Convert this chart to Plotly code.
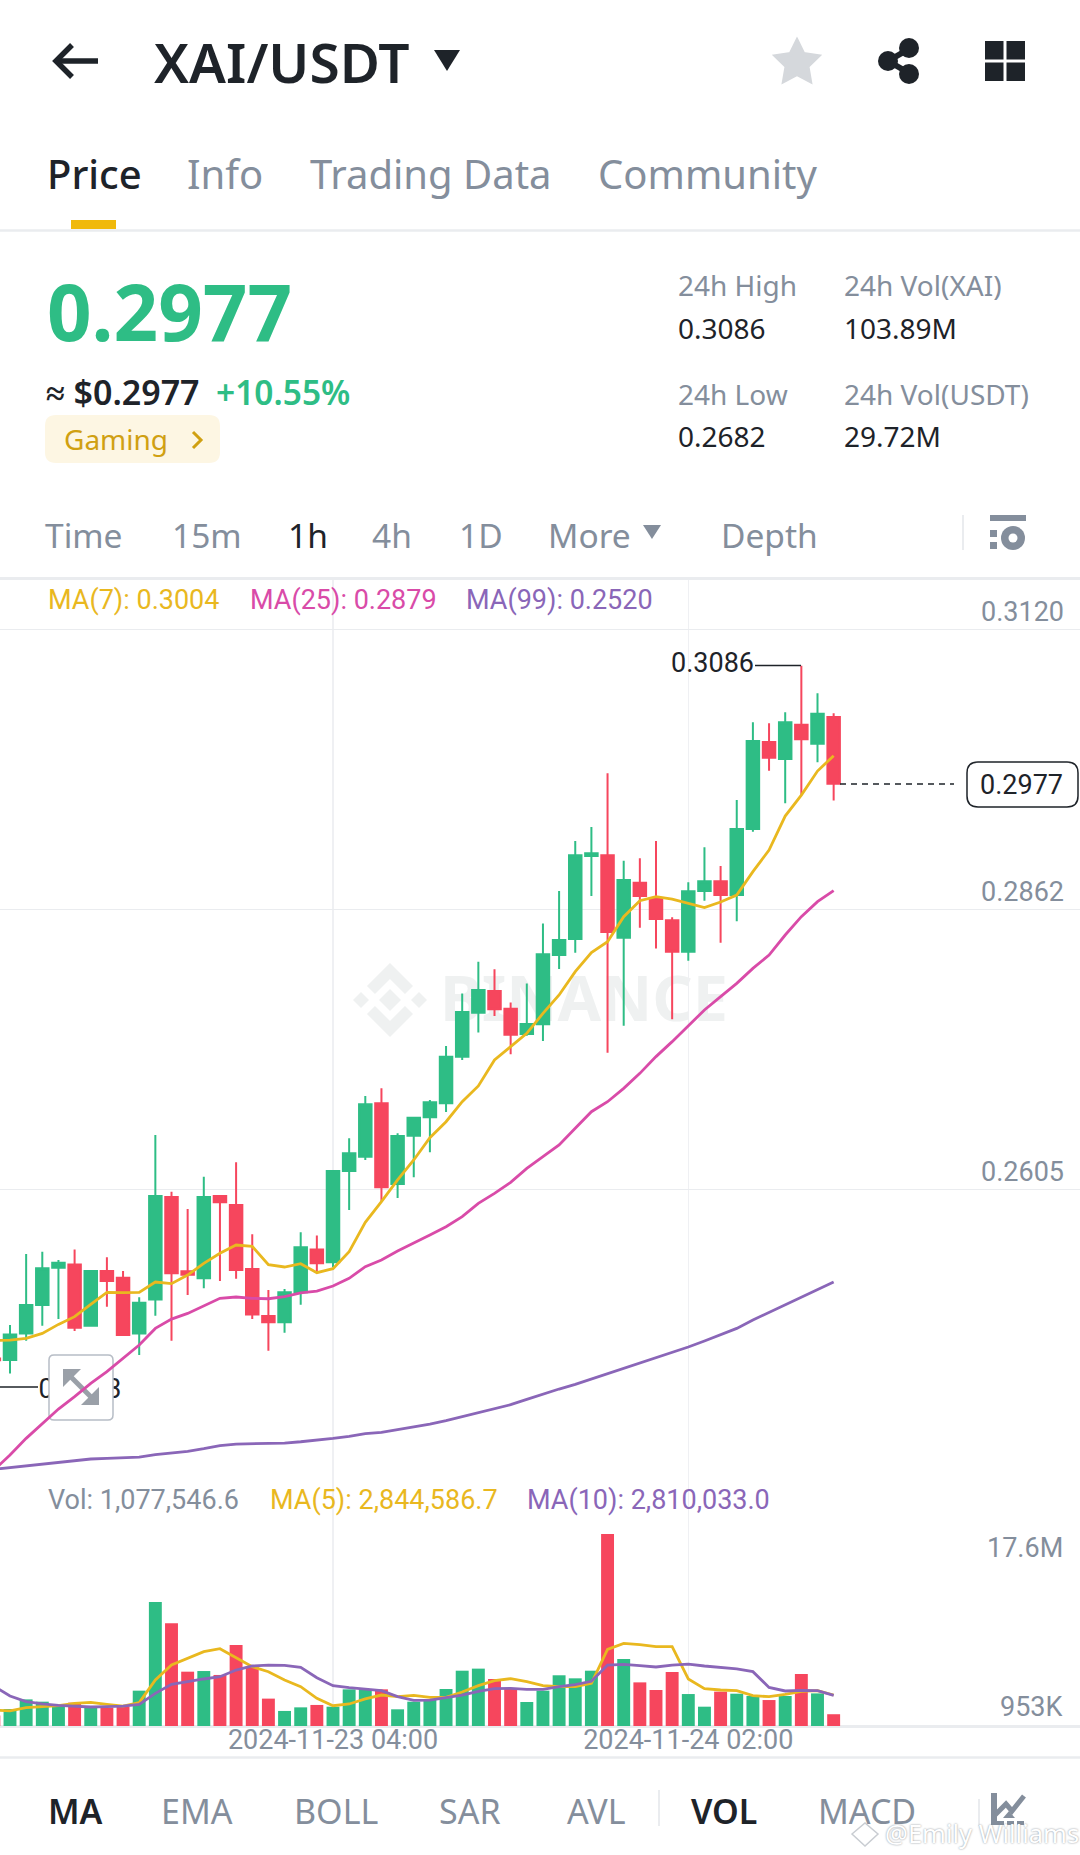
import math
import pandas as pd
import plotly.graph_objects as go

W, H = 1080, 1855
GREEN, RED = "#2EBD85", "#F6465D"
DARK, GREY = "#1E2329", "#848E9C"
YELLOW, PINK, PURPLE = "#E9B81F", "#D94BA8", "#8A66B8"
LINE = "#EAECEF"

# hourly candles, first one sits half off the left edge
hours = pd.date_range("2024-11-22 07:00", periods=53, freq="h")

opens = [.24491, .24476, .24721, .24982, .25326, .25356, .24792, .25295, .25234, .24721, .25034,
         .25976, .25292, .25228, .25985, .25902, .25313, .24881, .24823, .25099, .25494,
         .25375, .26215, .26347, .26838, .26096, .26540, .26709, .26838, .27267, .27672,
         .27872, .27709, .27476, .27565, .28203, .28350, .29114, .29120, .28363, .28869,
         .28725, .28522, .28234, .28792, .28881, .28755, .29363, .30163, .30007, .30323,
         .30148, .30393]
closes = [.24473, .24712, .24982, .25320, .25372, .24774, .25295, .25203, .24706, .25004, .25985,
          .25274, .25261, .25976, .25927, .25304, .24896, .24823, .25099, .25513, .25366,
          .26215, .26378, .26829, .26065, .26537, .26706, .26847, .27267, .27679, .27881,
          .27703, .27470, .27568, .28209, .28341, .29120, .29139, .28415, .28893, .28746,
          .28534, .28234, .28789, .28881, .28755, .29363, .30172, .30019, .30344, .30188,
          .30424, .29780]
highs = [.24500, .24798, .25452, .25473, .25396, .25494, .25304, .25421, .25295, .25053, .26547,
         .26025, .25866, .26163, .25994, .26295, .25633, .25120, .25129, .25651, .25623,
         .26224, .26516, .26906, .26976, .26562, .26706, .26869, .27366, .27850, .28142,
         .28071, .27767, .27942, .28494, .28792, .29252, .29381, .29875, .29071, .29093,
         .29252, .28550, .28872, .29194, .29022, .29629, .30344, .30335, .30436, .30866,
         .30611, .30427]
lows = [.24465, .24353, .24654, .24792, .24853, .24743, .24792, .24967, .24706, .24522, .24884,
        .24654, .25074, .25136, .25203, .25225, .24853, .24562, .24728, .24985, .25280,
        .25329, .25856, .26317, .25933, .25967, .26157, .26387, .26758, .27237, .27491,
        .27642, .27289, .27461, .27412, .28074, .28225, .28746, .27304, .27553, .28455,
        .28264, .27611, .28151, .28703, .28317, .28513, .29338, .29899, .29599, .29675,
        .29976, .29626]
ma_7 = [.24654, .24660, .24675, .24721, .24804, .24875, .24988, .25099, .25096, .25099, .25194,
        .25179, .25258, .25366, .25458, .25534, .25522, .25353, .25332, .25362, .25280,
        .25317, .25473, .25743, .25933, .26133, .26317, .26522, .26669, .26853, .26998,
        .27237, .27360, .27482, .27666, .27835, .28050, .28225, .28326, .28556, .28703,
        .28740, .28718, .28679, .28639, .28691, .28755, .28970, .29169, .29482, .29675,
        .29896, .30037]
ma_25 = [.23464, .23602, .23755, .23893, .24025, .24139, .24261, .24369, .24491, .24614, .24767,
         .24853, .24905, .24976, .25044, .25056, .25044, .25040, .25059, .25093, .25111,
         .25157, .25228, .25335, .25396, .25479, .25550, .25626, .25703, .25795, .25918,
         .26010, .26111, .26240, .26347, .26455, .26608, .26761, .26853, .26976, .27114,
         .27268, .27406, .27553, .27697, .27820, .27942, .28080, .28203, .28387, .28556,
         .28694, .28795]
ma_99 = [.23470, .23485, .23501, .23516, .23534, .23550, .23565, .23571, .23577, .23583, .23605,
         .23620, .23636, .23660, .23688, .23703, .23706, .23709, .23712, .23724, .23737,
         .23755, .23774, .23798, .23810, .23835, .23859, .23887, .23918, .23955, .23991,
         .24028, .24065, .24114, .24163, .24209, .24252, .24301, .24347, .24393, .24445,
         .24498, .24547, .24596, .24651, .24709, .24767, .24844, .24915, .24988, .25059,
         .25126, .25194]
# volume in millions
volume = [0.953, 1.56, 2.44, 2.23, 1.86, 2.14, 1.77, 1.68, 1.77, 3.24, 11.37,
          9.41, 4.98, 5.04, 4.68, 7.43, 5.44, 2.51, 1.38, 1.71, 1.93,
          1.77, 3.36, 3.30, 3.36, 1.53, 2.23, 2.44, 3.39, 5.07, 5.26,
          4.31, 3.45, 2.20, 3.24, 4.65, 4.37, 5.07, 17.6, 6.14, 4.00,
          3.30, 4.95, 2.93, 1.77, 3.15, 2.96, 2.75, 2.38, 2.75, 4.77,
          2.99, 1.08]
vol_ma5 = [1.47, 1.38, 1.68, 1.77, 1.86, 2.08, 2.17, 1.99, 1.83, 2.14, 4.22,
           5.59, 6.20, 6.81, 7.09, 6.26, 5.44, 4.98, 4.22, 3.61, 2.54,
           1.86, 2.02, 2.48, 2.84, 2.69, 2.81, 2.63, 2.63, 3.12, 3.70,
           4.16, 4.34, 4.06, 3.70, 3.61, 3.61, 3.91, 7.03, 7.58, 7.46,
           7.27, 7.27, 4.31, 3.42, 3.30, 3.24, 2.78, 2.69, 2.90, 3.18,
           3.24, 2.84]
vol_ma10 = [3.67, 2.75, 2.23, 2.02, 1.89, 1.83, 1.74, 1.77, 1.83, 1.99, 2.99,
            3.82, 4.10, 4.31, 4.52, 5.13, 5.50, 5.59, 5.56, 5.38, 4.43,
            3.70, 3.51, 3.39, 3.24, 2.69, 2.35, 2.38, 2.60, 2.84, 3.18,
            3.42, 3.45, 3.36, 3.36, 3.61, 3.79, 4.10, 5.59, 5.65, 5.53,
            5.41, 5.59, 5.68, 5.50, 5.35, 5.23, 4.98, 3.54, 3.21, 3.27,
            3.24, 2.81]

price_ticks = [.31200, .28623, .26047, .23470]
price_labels = ["0.3120", "0.2862", "0.2605", "0.2347"]
date_ticks = ["2024-11-23 04:00", "2024-11-24 02:00"]
header_tabs = [("Price", 46, DARK), ("Info", 186, GREY), ("Trading Data", 309, GREY), ("Community", 597, GREY)]
time_tabs = [("Time", 44, GREY), ("15m", 171, GREY), ("1h", 287, DARK), ("4h", 371, GREY),
             ("1D", 458, GREY), ("More", 547, GREY), ("Depth", 720, GREY)]
indicators = [("MA", 47, DARK), ("EMA", 160, GREY), ("BOLL", 293, GREY), ("SAR", 438, GREY),
              ("AVL", 566, GREY), ("VOL", 690, DARK), ("MACD", 817, GREY)]
bar_colors = [GREEN if c >= o else RED for o, c in zip(opens, closes)]


def px(x):
    return x / W


def py(y):
    return 1 - y / H


def path(points, close=True):
    d = "M" + " L".join(f"{px(x):.5f} {py(y):.5f}" for x, y in points)
    return d + (" Z" if close else "")


def round_rect(x0, y0, x1, y1, r):
    return (f"M{px(x0 + r):.5f} {py(y0):.5f} L{px(x1 - r):.5f} {py(y0):.5f} Q{px(x1):.5f} {py(y0):.5f} {px(x1):.5f} {py(y0 + r):.5f} "
            f"L{px(x1):.5f} {py(y1 - r):.5f} Q{px(x1):.5f} {py(y1):.5f} {px(x1 - r):.5f} {py(y1):.5f} "
            f"L{px(x0 + r):.5f} {py(y1):.5f} Q{px(x0):.5f} {py(y1):.5f} {px(x0):.5f} {py(y1 - r):.5f} "
            f"L{px(x0):.5f} {py(y0 + r):.5f} Q{px(x0):.5f} {py(y0):.5f} {px(x0 + r):.5f} {py(y0):.5f} Z")


shapes = []
annotations = []


def shape_path(d, fill=None, stroke=None, width=0, layer="above"):
    shapes.append(dict(type="path", path=d, xref="paper", yref="paper", layer=layer,
                       fillcolor=fill or "rgba(0,0,0,0)",
                       line=dict(color=stroke or "rgba(0,0,0,0)", width=width)))


def rule(x0, y0, x1, y1, color=LINE, width=2, dash="solid", layer="above"):
    shapes.append(dict(type="line", xref="paper", yref="paper", layer=layer,
                       x0=px(x0), y0=py(y0), x1=px(x1), y1=py(y1),
                       line=dict(color=color, width=width, dash=dash)))


def circle(cx, cy, r, fill, layer="above"):
    shapes.append(dict(type="circle", xref="paper", yref="paper", layer=layer,
                       x0=px(cx - r), y0=py(cy - r), x1=px(cx + r), y1=py(cy + r),
                       fillcolor=fill, line=dict(width=0)))


def label(x, y, s, size, color, anchor="left", family="Noto Sans", weight=400, shadow=None):
    font = dict(family=family, size=size, color=color, weight=weight)
    if shadow:
        font["shadow"] = shadow
    annotations.append(dict(x=px(x), y=py(y), xref="paper", yref="paper", text=s, showarrow=False,
                            xanchor=anchor, yanchor="middle", borderpad=0, font=font))


# header
shape_path(path([(72, 45), (56, 61), (72, 77)], close=False), stroke=DARK, width=5.5)
rule(57, 61, 98, 61, DARK, 5.5)
label(153, 62, "XAI/USDT", 55, DARK, weight=600)
shape_path(path([(434, 50), (460, 50), (447, 71)]), fill=DARK)
star = []
for n in range(10):
    r = 22 if n % 2 == 0 else 11
    a = -math.pi / 2 + n * math.pi / 5
    star.append((797 + r * math.cos(a), 63 + r * math.sin(a)))
shape_path(path(star), fill="#D5D8DC", stroke="#D5D8DC", width=4)
rule(888, 61, 909, 49, DARK, 6)
rule(888, 61, 909, 73, DARK, 6)
circle(888, 61, 10, DARK)
circle(909, 48, 10, DARK)
circle(909, 74, 10, DARK)
for gx, gy in [(985, 41), (1006.5, 41), (985, 62.5), (1006.5, 62.5)]:
    shape_path(path([(gx, gy), (gx + 18.5, gy), (gx + 18.5, gy + 18.5), (gx, gy + 18.5)]), fill=DARK)

for s, x, c in header_tabs:
    label(x, 174, s, 40, c, weight=500 if c == DARK else 400)
shape_path(path([(71, 220), (116, 220), (116, 229), (71, 229)]), fill="#F0B90B")
rule(0, 230.5, W, 230.5, LINE, 2.5)

label(46, 311, "0.2977", 78, GREEN, weight=700)
label(45, 392, "≈ $0.2977", 34, DARK, weight=600)
label(215, 392, "+10.55%", 33.5, GREEN, weight=600)
shape_path(round_rect(45, 415, 220, 463, 11), fill="#FDF6E3")
label(63, 439, "Gaming", 28, "#D0A012")
shape_path(path([(193, 432), (201, 440), (193, 448)], close=False), stroke="#D0A012", width=3)

stats = [("24h High", "0.3086", 677, 285, 328), ("24h Vol(XAI)", "103.89M", 843, 285, 328),
         ("24h Low", "0.2682", 677, 394, 436), ("24h Vol(USDT)", "29.72M", 843, 394, 436)]
for head, val, x, y0, y1 in stats:
    label(x, y0, head, 28, GREY)
    label(x, y1, val, 28, DARK)

for s, x, c in time_tabs:
    label(x, 535, s, 33.5, c)
shape_path(path([(643, 525), (661, 525), (652, 539)]), fill=GREY)
rule(963, 515, 963, 550, LINE, 2)
shape_path(path([(990, 515), (1026, 515), (1026, 521), (990, 521)]), fill=GREY)
shape_path(path([(990, 530), (997, 530), (997, 537), (990, 537)]), fill=GREY)
shape_path(path([(990, 542), (997, 542), (997, 549), (990, 549)]), fill=GREY)
circle(1013, 538, 12, GREY)
circle(1013, 538, 4.5, "white")
rule(0, 578.5, W, 578.5, LINE, 3)

# watermark and low-price tag sit under the candles
BG = "#EFF1F1"
cx, cy = 390, 1000
for dx, dy, r in [(0, 0, 11), (-29, 0, 8), (29, 0, 8)]:
    shape_path(path([(cx + dx - r, cy + dy), (cx + dx, cy + dy - r), (cx + dx + r, cy + dy), (cx + dx, cy + dy + r)]), fill=BG, layer="below")
shape_path(path([(cx, cy - 37), (cx + 23, cy - 14), (cx + 15, cy - 6), (cx, cy - 21), (cx - 15, cy - 6), (cx - 23, cy - 14)]), fill=BG, layer="below")
shape_path(path([(cx, cy + 37), (cx + 23, cy + 14), (cx + 15, cy + 6), (cx, cy + 21), (cx - 15, cy + 6), (cx - 23, cy + 14)]), fill=BG, layer="below")
shapes.append(dict(type="rect", xref="paper", yref="paper", layer="below",
                   x0=px(430), y0=py(970), x1=px(738), y1=py(1030), line=dict(width=0),
                   label=dict(text="BINANCE", textposition="middle center",
                              font=dict(family="Noto Sans", size=63, color=BG, weight=700))))

rule(0, 1387, 38, 1387, DARK, 1.5, layer="below")
shapes.append(dict(type="rect", xref="paper", yref="paper", layer="below",
                   x0=px(34), y0=py(1370), x1=px(126), y1=py(1404), line=dict(width=0),
                   label=dict(text="0.2423", textposition="middle center",
                              font=dict(family="Roboto", size=27, color=DARK))))
shape_path(round_rect(49, 1355, 113, 1420, 5), fill="white", stroke="#B7BDC6", width=1.5, layer="below")
ARROW = "#9AA0A8"
shape_path(path([(63, 1369), (81, 1369), (63, 1387)]), fill=ARROW, layer="below")
shape_path(path([(99, 1405), (81, 1405), (99, 1387)]), fill=ARROW, layer="below")
rule(68, 1374, 94, 1400, ARROW, 5, layer="below")

# chart legends
label(47, 600, "MA(7): 0.3004", 27, YELLOW, family="Roboto")
label(249, 600, "MA(25): 0.2879", 27, PINK, family="Roboto")
label(465, 600, "MA(99): 0.2520", 27, PURPLE, family="Roboto")
label(47, 1500, "Vol: 1,077,546.6", 27, GREY, family="Roboto")
label(269, 1500, "MA(5): 2,844,586.7", 27, YELLOW, family="Roboto")
label(526, 1500, "MA(10): 2,810,033.0", 27, PURPLE, family="Roboto")
label(1064, 1548, "17.6M", 27, GREY, anchor="right", family="Roboto")
label(1064, 1707, "953K", 27, GREY, anchor="right", family="Roboto")

# high marker and last price pill
label(755, 663, "0.3086", 27, DARK, anchor="right", family="Roboto")
rule(755, 665.5, 801, 665.5, DARK, 1.5)
rule(840, 784, 954, 784, DARK, 1.5, dash="6px,5px")
shape_path(round_rect(967, 762, 1078, 807, 11), fill="white", stroke=DARK, width=1.5)
label(1064, 785, "0.2977", 27, DARK, anchor="right", family="Roboto")

# bottom tabs
rule(0, 1757.5, W, 1757.5, LINE, 2.5)
for s, x, c in indicators:
    label(x, 1810.5, s, 34, c, weight=600 if c == DARK else 400)
rule(659, 1790, 659, 1826, LINE, 2)
rule(979, 1799, 979, 1826, LINE, 2)
rule(994, 1793, 994, 1825, GREY, 6)
shape_path(path([(994, 1816), (1006, 1804), (1012, 1811), (1024, 1796)], close=False), stroke=GREY, width=5)
shape_path(path([(1003, 1818), (1015, 1818), (1009, 1811)]), fill=GREY)
for bx in [997, 1007, 1017]:
    shape_path(path([(bx, 1821), (bx + 7, 1821), (bx + 7, 1825), (bx, 1825)]), fill=GREY)

shape_path(path([(852, 1834), (865, 1823), (878, 1834), (865, 1846)]), stroke="#C9CDD2", width=1.5)
label(884, 1833, "@Emily Williams", 25.5, "white", shadow="0px 0px 2px #7f868e")

fig = go.Figure()
fig.add_trace(go.Candlestick(x=hours, open=opens, high=highs, low=lows, close=closes,
                             increasing=dict(line=dict(color=GREEN, width=2), fillcolor=GREEN),
                             decreasing=dict(line=dict(color=RED, width=2), fillcolor=RED),
                             whiskerwidth=0, xaxis="x", yaxis="y"))
for values, color in [(ma_7, YELLOW), (ma_25, PINK), (ma_99, PURPLE)]:
    fig.add_trace(go.Scatter(x=hours, y=values, mode="lines", line=dict(color=color, width=2.8), xaxis="x", yaxis="y"))
fig.add_trace(go.Bar(x=hours, y=[v * 1e6 for v in volume], marker=dict(color=bar_colors, line=dict(width=0)),
                     width=3600000 * 0.8, xaxis="x2", yaxis="y2"))
for values, color in [(vol_ma5, YELLOW), (vol_ma10, PURPLE)]:
    fig.add_trace(go.Scatter(x=hours, y=[v * 1e6 for v in values], mode="lines", line=dict(color=color, width=2.8),
                             xaxis="x2", yaxis="y2"))

start = pd.Timestamp(hours[1]) - pd.Timedelta(hours=10 / 16.15)
end = pd.Timestamp(hours[1]) + pd.Timedelta(hours=1070 / 16.15)
x_axis = dict(range=[start, end], type="date", tickvals=date_ticks, showgrid=True, gridcolor="#EFF0F3",
              gridwidth=1.5, ticks="", showline=False, zeroline=False, rangeslider=dict(visible=False))

fig.update_layout(
    width=W, height=H, margin=dict(l=0, r=0, t=0, b=0), autosize=False,
    paper_bgcolor="white", plot_bgcolor="rgba(0,0,0,0)", showlegend=False, dragmode=False,
    boxgap=0.14, boxgroupgap=0.1,
    xaxis=dict(x_axis, domain=[0, 1], anchor="y", showticklabels=False),
    xaxis2=dict(x_axis, domain=[0, 1], anchor="y2", matches="x", showticklabels=True, ticklabelstandoff=-5,
                ticktext=date_ticks, tickfont=dict(family="Roboto", size=27, color=GREY)),
    yaxis=dict(domain=[py(1470), py(580)], range=[.23464, .31654], anchor="x", side="right",
               tickvals=price_ticks, ticktext=[s + "<br>&nbsp;" for s in price_labels],
               ticklabelposition="inside", ticklabelstandoff=13, ticks="",
               tickfont=dict(family="Roboto", size=27, color=GREY),
               showgrid=True, gridcolor=LINE, gridwidth=1.5, zeroline=False, showline=False),
    yaxis2=dict(domain=[py(1726), py(1470)], range=[0, 23.47e6], anchor="x2", side="right",
                showticklabels=False, ticks="",
                showgrid=False, zeroline=True, zerolinecolor=LINE, zerolinewidth=3, showline=False),
    shapes=shapes, annotations=annotations,
)

fig.write_html("out.html", config=dict(displayModeBar=False, staticPlot=True),
               post_script="document.body.style.margin='0';")
